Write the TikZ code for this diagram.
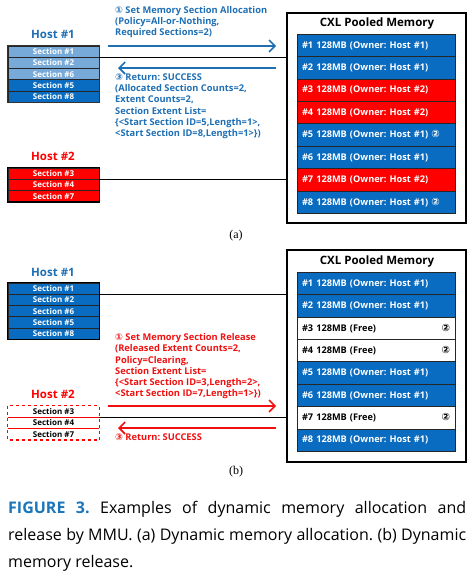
\documentclass[tikz,border=0pt]{standalone}
\usepackage{fontspec}
\setmainfont{Open Sans}
\newfontfamily\circfont{DejaVu Sans}
\newfontfamily\panelfont{Liberation Serif}
\usetikzlibrary{arrows.meta}

\definecolor{hostblue}{HTML}{1F6FB4}
\definecolor{memblue}{HTML}{0A6CC0}
\definecolor{lightsec}{HTML}{78AAD9}
\definecolor{memred}{HTML}{FF0000}
\definecolor{msgred}{HTML}{F01010}
\definecolor{capblue}{HTML}{1B75BB}

\newcommand{\stepone}{{\circfont ①}}
\newcommand{\steptwo}{{\circfont\fontsize{10}{10}\selectfont ②}}
\newcommand{\stepthree}{{\circfont ③}}

\begin{document}
\frenchspacing
\begin{tikzpicture}[
    x=1pt, y=-1pt,
    every node/.style={font=\bfseries},
    hostlabel/.style={
        font=\fontsize{11.5}{13}\selectfont\bfseries,
        inner sep=0pt
    },
    secrow/.style={
        draw=black!85,
        line width=0.6pt,
        minimum width=91,
        minimum height=11.2,
        inner sep=0pt,
        text=white,
        font=\fontsize{8}{9}\selectfont\bfseries
    },
    memrow/.style={
        draw=black!85,
        line width=0.9pt,
        minimum width=158,
        minimum height=22.4,
        text width=148pt,
        inner xsep=5pt,
        inner ysep=0pt,
        align=left,
        font=\fontsize{9.2}{10}\selectfont\bfseries
    },
    poolbox/.style={
        draw,
        line width=1.6pt,
        minimum width=179,
        inner sep=0pt
    },
    pooltitle/.style={
        font=\fontsize{11.5}{13}\selectfont\bfseries,
        inner sep=0pt
    },
    msgtext/.style={
        anchor=north west,
        align=left,
        inner sep=0pt,
        font=\fontsize{9.3}{11.2}\selectfont\bfseries
    },
    msgarr/.style={
        -{Straight Barb[length=6pt,width=12pt,line width=1.6pt]},
        line width=1.8pt,
        shorten >=10pt
    },
    link/.style={line width=1.3pt},
    panel/.style={font=\panelfont\fontsize{12}{14}\selectfont}
]
\useasboundingbox (0,0) rectangle (474,581);

    % ---------------- (a) allocation ----------------
    % Host #1
    \node[hostlabel, text=hostblue] (ha1) at (53,34) {Host \#1};
    \foreach \nm/\fl [count=\i] in {1/lightsec,2/lightsec,6/lightsec,5/memblue,8/memblue}
        \node[secrow, fill=\fl] (ha1s\i) at (53.5,{46+11.2*\i-5.6}) {Section \#\nm};
    \draw[line width=1.5pt, black!80] (ha1s1.north west) rectangle (ha1s5.south east);

    % Host #2
    \node[hostlabel, text=memred] (ha2) at (53,156) {Host \#2};
    \foreach \nm [count=\i] in {3,4,7}
        \node[secrow, fill=memred] (ha2s\i) at (53.5,{168+11.2*\i-5.6}) {Section \#\nm};
    \draw[line width=1.5pt] (ha2s1.north west) rectangle (ha2s3.south east);

    % CXL pooled memory
    \node[poolbox, minimum height=210] (mema) at (376.5,118) {};
    \node[pooltitle] (mata) at (377,24) {CXL Pooled Memory};
    \foreach \fl/\txt [count=\i] in {
        memblue/{\#1 128MB (Owner: Host \#1)},
        memblue/{\#2 128MB (Owner: Host \#1)},
        memred/{\#3 128MB (Owner: Host \#2)},
        memred/{\#4 128MB (Owner: Host \#2)},
        memblue/{\#5 128MB (Owner: Host \#1) \steptwo},
        memblue/{\#6 128MB (Owner: Host \#1)},
        memred/{\#7 128MB (Owner: Host \#2)},
        memblue/{\#8 128MB (Owner: Host \#1) \steptwo}}
        \node[memrow, fill=\fl, text=white] (ma\i) at (376,{34.3+22.4*\i-11.2}) {\txt};

    % links and messages
    \draw[link] (ha1s1.south east) -- (ha1s1.south east -| mema.west);
    \draw[link] (ha2s1.south east) -- (ha2s1.south east -| mema.west);

    \coordinate (reqa) at (108,46);
    \coordinate (repa) at (108,68);
    \draw[msgarr, hostblue] (reqa) -- (reqa -| mema.west);
    \draw[msgarr, hostblue] (repa -| mema.west) ++(-10,0) -- (repa);

    \node[msgtext, text=hostblue] (msga1) at (115,6) {\stepone\ Set Memory Section Allocation\\
        (Policy=All-or-Nothing,\\
        Required Sections=2)};
    \node[msgtext, text=hostblue] (msga3) at (115,73.5) {\stepthree\ Return: SUCCESS\\
        (Allocated Section Counts=2,\\
        Extent Counts=2,\\
        Section Extent List=\\
        \{<Start Section ID=5,Length=1>,\\
        <Start Section ID=8,Length=1>\})};

    \node[panel] (pa) at (236,236) {(a)};

    % ---------------- (b) release ----------------
    % Host #1
    \node[hostlabel, text=hostblue] (hb1) at (53,272) {Host \#1};
    \foreach \nm [count=\i] in {1,2,6,5,8}
        \node[secrow, fill=memblue] (hb1s\i) at (53.5,{283+11.2*\i-5.6}) {Section \#\nm};
    \draw[line width=1.5pt] (hb1s1.north west) rectangle (hb1s5.south east);

    % Host #2 (released)
    \node[hostlabel, text=memred] (hb2) at (53,394) {Host \#2};
    \foreach \nm [count=\i] in {3,4,7}
        \node[secrow, draw=none, text=black] (hb2s\i) at (53.5,{406+11.2*\i-5.6}) {Section \#\nm};
    \draw[memred, line width=1.2pt] (hb2s1.south west) -- (hb2s1.south east);
    \draw[memred, line width=1.2pt] (hb2s2.south west) -- (hb2s2.south east);
    \draw[memred, line width=1.5pt, dashed] (hb2s1.north west) rectangle (hb2s3.south east);

    % CXL pooled memory
    \node[poolbox, minimum height=212] (memb) at (376.5,356) {};
    \node[pooltitle] (matb) at (377,262) {CXL Pooled Memory};
    \foreach \fl/\tc/\txt [count=\i] in {
        memblue/white/{\#1 128MB (Owner: Host \#1)},
        memblue/white/{\#2 128MB (Owner: Host \#1)},
        white/black/{\#3 128MB (Free)\hfill\steptwo},
        white/black/{\#4 128MB (Free)\hfill\steptwo},
        memblue/white/{\#5 128MB (Owner: Host \#1)},
        memblue/white/{\#6 128MB (Owner: Host \#1)},
        white/black/{\#7 128MB (Free)\hfill\steptwo},
        memblue/white/{\#8 128MB (Owner: Host \#1)}}
        \node[memrow, fill=\fl, text=\tc] (mb\i) at (376,{272.3+22.4*\i-11.2}) {\txt};

    % links and messages
    \draw[link] (hb1s1.south east) -- (hb1s1.south east -| memb.west);
    \draw[link] (hb2s1.south east) -- (hb2s1.south east -| memb.west);

    \coordinate (reqb) at (108,406);
    \coordinate (repb) at (108,428);
    \draw[msgarr, msgred] (reqb) -- (reqb -| memb.west);
    \draw[msgarr, msgred] (repb -| memb.west) ++(-10,0) -- (repb);

    \node[msgtext, text=msgred] (msgb1) at (115,333.5) {\stepone\ Set Memory Section Release\\
        (Released Extent Counts=2,\\
        Policy=Clearing,\\
        Section Extent List=\\
        \{<Start Section ID=3,Length=2>,\\
        <Start Section ID=7,Length=1>\})};
    \node[msgtext, text=msgred] (msgb3) at (115,434) {\stepthree\ Return: SUCCESS};

    \node[panel] (pb) at (236,472) {(b)};

    % caption
    \node[anchor=north west, text width=458pt, align=justify, inner sep=0pt,
          font=\fontsize{16}{27}\selectfont] (cap) at (8,501)
        {\textcolor{capblue}{\bfseries FIGURE 3.} Examples of dynamic memory allocation and\linebreak
         release by MMU. (a) Dynamic memory allocation. (b) Dynamic\linebreak
         memory release.};

\end{tikzpicture}
\end{document}
